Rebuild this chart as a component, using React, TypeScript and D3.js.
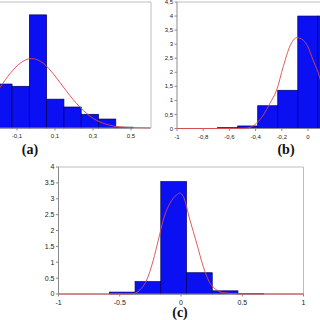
import React from 'react'
import * as d3 from 'd3'

// panel (a): bin edges, bar heights, fitted curve
const aEdges = [-0.217, -0.126, -0.035, 0.056, 0.147, 0.238, 0.329, 0.42, 0.511]
const aValues = [1.57, 1.49, 4.04, 1.03, 0.75, 0.49, 0.32, 0.03]
const aCurveX = [-0.25, -0.189, -0.137, -0.084, -0.023, 0.037, 0.1, 0.161, 0.232, 0.302, 0.372, 0.442, 0.52, 0.6]
const aCurveY = [0.95, 1.46, 1.94, 2.31, 2.48, 2.32, 1.86, 1.31, 0.74, 0.34, 0.13, 0.04, 0.01, 0]
const aXTicks = [-0.1, 0.1, 0.3, 0.5]

// panel (b)
const bEdges = [-0.69, -0.537, -0.384, -0.231, -0.078, 0.075, 0.228]
const bValues = [0.03, 0.09, 0.81, 1.36, 4.0, 4.0]
const bCurveX = [-1, -0.6, -0.48, -0.443, -0.392, -0.341, -0.29, -0.239, -0.189, -0.137, -0.086, -0.038, 0, 0.038, 0.076, 0.107]
const bCurveY = [0, 0, 0.01, 0.04, 0.19, 0.48, 0.9, 1.37, 2.2, 2.94, 3.23, 3.15, 2.9, 2.44, 2.01, 1.51]
const bXTicks = [-1, -0.8, -0.6, -0.4, -0.2, 0]
const bYTicks = [0, 0.5, 1, 1.5, 2, 2.5, 3, 3.5, 4, 4.5]

// panel (c)
const cEdges = [-0.585, -0.375, -0.165, 0.045, 0.255, 0.465, 0.675]
const cValues = [0.06, 0.39, 3.54, 0.67, 0.1, 0.01]
const cCurveX = [-1, -0.4, -0.335, -0.28, -0.226, -0.185, -0.145, -0.09, -0.035, -0.008, 0.019, 0.073, 0.128, 0.182, 0.237, 0.291, 0.345, 0.5, 1]
const cCurveY = [0, 0, 0.13, 0.44, 1.07, 1.7, 2.33, 2.86, 3.12, 3.18, 3.07, 2.33, 1.6, 0.86, 0.34, 0.13, 0.04, 0, 0]
const cXTicks = [-1, -0.5, 0, 0.5, 1]
const cYTicks = [0, 0.5, 1, 1.5, 2, 2.5, 3, 3.5, 4]

const comma = (d: number) => String(d).replace('.', ',')
const dot = (d: number) => String(d)

type PanelProps = {
  xDomain: number[], xRange: number[], yDomain: number[], yRange: number[],
  edges: number[], values: number[], curveX: number[], curveY: number[],
  xTicks: number[], yTicks: number[], fmt: (d: number) => string,
  left: number, right: number, yAxis: boolean, rightBorder: boolean,
  fontSize: number, caption: string, capX: number, capY: number
}

function Panel(p: PanelProps) {
  const x = d3.scaleLinear().domain(p.xDomain).range(p.xRange)
  const y = d3.scaleLinear().domain(p.yDomain).range(p.yRange)
  const y0 = y(0), yTop = y(p.yDomain[1])

  const line = d3.line<number>()
    .x((d, i) => x(p.curveX[i]))
    .y(d => y(d))
    .curve(d3.curveMonotoneX)

  const bars = p.values.map((v, i) => (
    <rect key={i} x={x(p.edges[i])} y={y(v)} width={x(p.edges[i + 1]) - x(p.edges[i])}
      height={y0 - y(v)} fill="#0a10f2" stroke="#00005a" strokeWidth={0.7} />
  ))

  return (
    <g>
      <line x1={p.left} x2={p.right} y1={yTop} y2={yTop} stroke="#bdbdbd" strokeWidth={1} />
      {p.rightBorder && <line x1={p.right} x2={p.right} y1={yTop} y2={y0} stroke="#bdbdbd" strokeWidth={1} />}
      {bars}
      <line x1={p.left} x2={p.right} y1={y0} y2={y0} stroke="#8a8a8a" strokeWidth={1} />
      {p.yAxis && <line x1={p.left} x2={p.left} y1={yTop} y2={y0} stroke="#8a8a8a" strokeWidth={1} />}
      <path d={line(p.curveY) || ''} fill="none" stroke="#dc4a4a" strokeWidth={0.9} />
      {p.xTicks.map(t => (
        <g key={'x' + t}>
          <line x1={x(t)} x2={x(t)} y1={y0} y2={y0 + 2.5} stroke="#8a8a8a" />
          <text x={x(t)} y={y0 + 4 + p.fontSize} textAnchor="middle" fontSize={p.fontSize}
            fontFamily="Liberation Sans, Arial, sans-serif" fill="#222">{p.fmt(t)}</text>
        </g>
      ))}
      {p.yTicks.map(t => (
        <g key={'y' + t}>
          <line x1={p.left - 2.5} x2={p.left} y1={y(t)} y2={y(t)} stroke="#8a8a8a" />
          <text x={p.left - 4} y={y(t) + p.fontSize * 0.35} textAnchor="end" fontSize={p.fontSize}
            fontFamily="Liberation Sans, Arial, sans-serif" fill="#222">{p.fmt(t)}</text>
        </g>
      ))}
      <text x={p.capX} y={p.capY} textAnchor="middle" fontSize={14} fontWeight="bold"
        fontFamily="Liberation Serif, Times New Roman, serif" fill="#111">{p.caption}</text>
    </g>
  )
}

export default function App() {
  return (
    <svg width={320} height={320} style={{ position: 'absolute', left: 0, top: 0, background: '#fff' }}>
      <Panel xDomain={[-0.2, 0.6]} xRange={[-2, 150]} yDomain={[0, 4.5]} yRange={[128, 2]}
        edges={aEdges} values={aValues} curveX={aCurveX} curveY={aCurveY}
        xTicks={aXTicks} yTicks={[]} fmt={comma} left={0} right={151}
        yAxis={false} rightBorder={true} fontSize={6} caption="(a)" capX={30} capY={154} />
      <Panel xDomain={[-1, 0]} xRange={[177, 308]} yDomain={[0, 4.5]} yRange={[128.5, 2]}
        edges={bEdges} values={bValues} curveX={bCurveX} curveY={bCurveY}
        xTicks={bXTicks} yTicks={bYTicks} fmt={comma} left={177} right={320}
        yAxis={true} rightBorder={false} fontSize={6} caption="(b)" capX={286} capY={154} />
      <Panel xDomain={[-1, 1]} xRange={[58.5, 303.5]} yDomain={[0, 4]} yRange={[294, 167]}
        edges={cEdges} values={cValues} curveX={cCurveX} curveY={cCurveY}
        xTicks={cXTicks} yTicks={cYTicks} fmt={dot} left={58.5} right={303.5}
        yAxis={true} rightBorder={true} fontSize={7} caption="(c)" capX={180} capY={317} />
    </svg>
  )
}
